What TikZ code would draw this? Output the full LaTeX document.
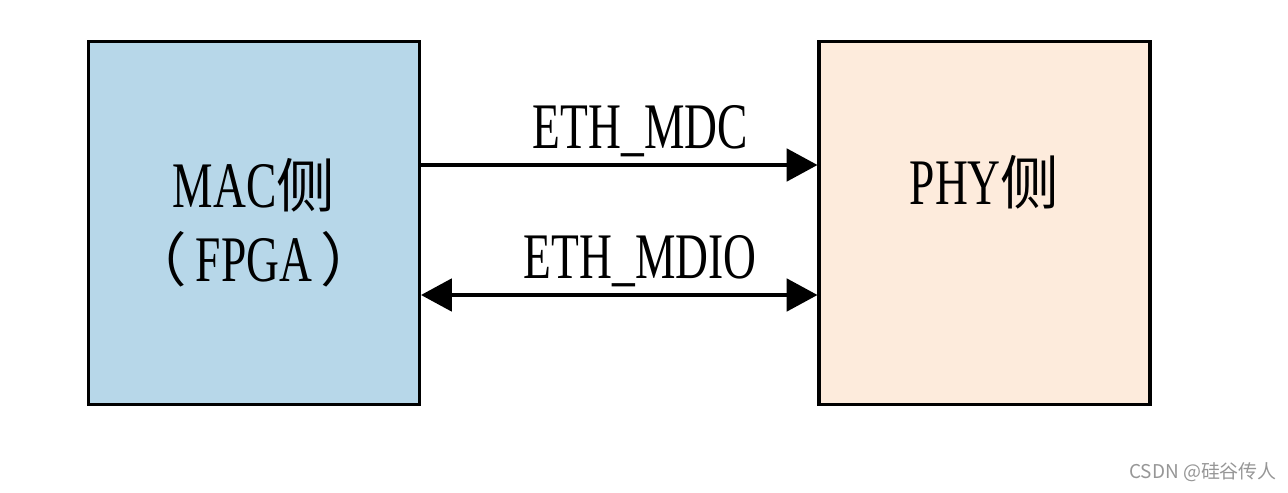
\documentclass[tikz,border=0pt]{standalone}
\usepackage{fontspec}
\setmainfont{Liberation Serif}[FakeStretch=0.7]
\newfontfamily\cjk{Noto Sans CJK SC}[Scale=0.9]
\definecolor{MacBlue}{RGB}{183, 215, 233}
\definecolor{PhyPeach}{RGB}{253, 235, 220}
\definecolor{CreditGray}{RGB}{150, 150, 150}
\usetikzlibrary{arrows.meta, positioning}

\begin{document}
\begin{tikzpicture}[
    x=0.02cm, y=-0.02cm,
    >={Triangle[length=17.5pt, width=18.5pt]},
    every node/.style={font=\fontsize{37}{42}\selectfont, align=center},
    side/.style={draw=black, line width=1.8pt, inner sep=0pt,
                minimum width=6.62cm, minimum height=7.26cm},
    signal/.style={line width=1.8pt},
    sigtext/.style={pos=0.553, anchor=base, yshift=0.34cm}
]
\useasboundingbox (0,0) rectangle (1288,493);

\node[side, fill=MacBlue] (mac) at (254,223) {MAC{\cjk 侧}\\{\cjk （}\kern5pt FPGA\kern5pt{\cjk ）}};
\node[side, fill=PhyPeach] (phy) at (984.5,223) {};
\node[anchor=base] (phytext) at (984.5,205) {PHY{\cjk 侧}};

\draw[signal, ->] (mac.east |- 0,165) -- node[sigtext] {ETH\_MDC} (phy.west |- 0,165);
\draw[signal, <->] (mac.east |- 0,295) -- node[sigtext] {ETH\_MDIO} (phy.west |- 0,295);

\node[text=CreditGray, font=\cjk\fontsize{12}{14}\selectfont] (credit) at (1203,472) {CSDN @硅谷传人};
\end{tikzpicture}
\end{document}
